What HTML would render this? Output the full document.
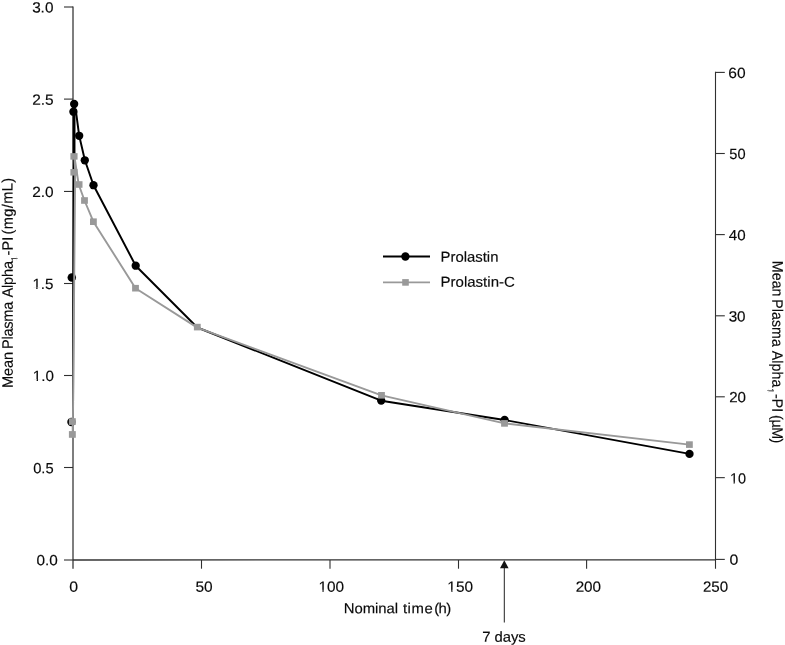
<!DOCTYPE html>
<html lang="en">
<head>
<meta charset="utf-8">
<title>Mean Plasma Alpha1-PI vs Nominal time</title>
<style>
  html, body { margin: 0; padding: 0; background: #ffffff; }
  body { width: 785px; height: 645px; overflow: hidden; }
  svg { display: block; }
  text { font-family: "Liberation Sans", "DejaVu Sans", sans-serif; fill: #0a0a0a; stroke: #0a0a0a; stroke-width: 0.15px; text-rendering: geometricPrecision; }
  .ax { stroke: #303030; stroke-width: 1.1; fill: none; }
</style>
</head>
<body>
<svg width="785" height="645" viewBox="0 0 785 645">
  <rect x="0" y="0" width="785" height="645" fill="#ffffff"/>

  <!-- left axis -->
  <g class="ax">
    <line x1="73" y1="6.4" x2="73" y2="568.7" stroke-width="1.25"/>
    <line x1="64" y1="7" x2="73" y2="7"/>
    <line x1="64" y1="99.1" x2="73" y2="99.1"/>
    <line x1="64" y1="191.45" x2="73" y2="191.45"/>
    <line x1="64" y1="283.5" x2="73" y2="283.5"/>
    <line x1="64" y1="375.5" x2="73" y2="375.5"/>
    <line x1="64" y1="467.5" x2="73" y2="467.5"/>
    <line x1="64" y1="560" x2="73" y2="560"/>
  </g>

  <!-- x axis -->
  <g class="ax">
    <line x1="73" y1="560" x2="715.5" y2="559.8" stroke-width="1.35"/>
    <line x1="201.5" y1="560" x2="201.5" y2="568.7"/>
    <line x1="330" y1="560" x2="330" y2="568.7"/>
    <line x1="458.5" y1="560" x2="458.5" y2="568.7"/>
    <line x1="586.6" y1="560" x2="586.6" y2="568.7"/>
  </g>

  <!-- right axis -->
  <g class="ax">
    <line x1="715.5" y1="71.8" x2="715.5" y2="568.7"/>
    <line x1="715.5" y1="72.4" x2="724.8" y2="72.4"/>
    <line x1="715.5" y1="153.5" x2="724.8" y2="153.5"/>
    <line x1="715.5" y1="234.6" x2="724.8" y2="234.6"/>
    <line x1="715.5" y1="315.8" x2="724.8" y2="315.8"/>
    <line x1="715.5" y1="396.8" x2="724.8" y2="396.8"/>
    <line x1="715.5" y1="477.65" x2="724.8" y2="477.65"/>
    <line x1="715.5" y1="559.4" x2="724.8" y2="559.4"/>
  </g>

  <!-- tick labels, axis titles, legend labels -->
  <g>
  <text transform="translate(32.70 12.60) rotate(0.04) scale(1.0301 1)" font-size="14.85" x="-0.56 7.70 11.83">3.0</text>
  <text transform="translate(32.90 104.80) rotate(0.04) scale(1.0420 1)" font-size="14.85" x="-0.74 7.52 11.64">2.5</text>
  <text transform="translate(32.90 196.95) rotate(0.04) scale(1.0400 1)" font-size="14.85" x="-0.74 7.52 11.64">2.0</text>
  <g transform="translate(33.90 289.00) rotate(0.04) scale(1.0213 1)"><text font-size="14.85" x="-1.43 6.83 10.96">1.5</text><rect x="-1.73" y="-1.81" width="4.03" height="2.51" fill="#fff"/><rect x="3.62" y="-1.81" width="3.64" height="2.51" fill="#fff"/></g>
  <g transform="translate(34.30 381.00) rotate(0.04) scale(1.0246 1)"><text font-size="14.85" x="-1.43 6.83 10.96">1.0</text><rect x="-1.73" y="-1.81" width="4.03" height="2.51" fill="#fff"/><rect x="3.62" y="-1.81" width="3.64" height="2.51" fill="#fff"/></g>
  <text transform="translate(33.70 473.30) rotate(0.04) scale(0.9910 1)" font-size="14.85" x="-0.56 7.70 11.83">0.5</text>
  <text transform="translate(37.00 565.20) rotate(0.04) scale(1.0301 1)" font-size="14.85" x="-0.56 7.70 11.83">0.0</text>
  <text transform="translate(729.10 77.95) rotate(0.04) scale(1.0459 1)" font-size="14.85" x="-0.74 7.52">60</text>
  <text transform="translate(729.90 159.10) rotate(0.04) scale(0.9837 1)" font-size="14.85" x="-0.59 7.67">50</text>
  <text transform="translate(729.10 240.20) rotate(0.04) scale(1.0186 1)" font-size="14.85" x="-0.33 7.93">40</text>
  <text transform="translate(729.20 321.40) rotate(0.04) scale(1.0268 1)" font-size="14.85" x="-0.56 7.70">30</text>
  <text transform="translate(729.90 402.20) rotate(0.04) scale(1.0196 1)" font-size="14.85" x="-0.74 7.52">20</text>
  <g transform="translate(731.30 483.45) rotate(0.04) scale(0.9714 1)"><text font-size="14.85" x="-1.43 6.83">10</text><rect x="-1.73" y="-1.81" width="4.03" height="2.51" fill="#fff"/><rect x="3.62" y="-1.81" width="3.64" height="2.51" fill="#fff"/></g>
  <text transform="translate(730.10 564.80) rotate(0.04) scale(1.0662 1)" font-size="14.85" x="-0.56">0</text>
  <text transform="translate(69.80 591.65) rotate(0.04) scale(1.0662 1)" font-size="14.85" x="-0.56">0</text>
  <text transform="translate(196.10 591.65) rotate(0.04) scale(1.0423 1)" font-size="14.85" x="-0.59 7.67">50</text>
  <g transform="translate(320.00 591.65) rotate(0.04) scale(1.0362 1)"><text font-size="14.85" x="-1.43 6.83 15.09">100</text><rect x="-1.73" y="-1.81" width="4.03" height="2.51" fill="#fff"/><rect x="3.62" y="-1.81" width="3.64" height="2.51" fill="#fff"/></g>
  <g transform="translate(448.80 591.65) rotate(0.04) scale(1.0362 1)"><text font-size="14.85" x="-1.43 6.83 15.09">150</text><rect x="-1.73" y="-1.81" width="4.03" height="2.51" fill="#fff"/><rect x="3.62" y="-1.81" width="3.64" height="2.51" fill="#fff"/></g>
  <text transform="translate(576.40 591.65) rotate(0.04) scale(1.0273 1)" font-size="14.85" x="-0.74 7.52 15.78">200</text>
  <text transform="translate(703.70 591.65) rotate(0.04) scale(1.0187 1)" font-size="14.85" x="-0.74 7.52 15.78">250</text>
  <text transform="translate(344.90 613.20) rotate(0.04) scale(1.0338 1)" font-size="14.4" x="-1.15 9.21 17.18 29.13 32.29 40.26 48.23 51.43 56.10 60.66 64.40 76.95 84.96 86.41 90.65 98.11">Nominal time (h)</text>
  <text transform="translate(482.90 641.80) rotate(0.04) scale(1.0299 1)" font-size="14.4" x="-0.72 7.29 11.17 19.18 27.18 34.38">7 days</text>
  <text transform="translate(441.70 261.70) rotate(0.04) scale(1.0341 1)" font-size="14.4" x="-1.15 8.45 13.25 21.26 24.46 32.47 39.67 43.67 46.87">Prolastin</text>
  <text transform="translate(441.70 286.75) rotate(0.04) scale(1.0441 1)" font-size="14.4" x="-1.15 8.45 13.25 21.26 24.46 32.47 39.67 43.67 46.87 54.87 59.67">Prolastin-C</text>
  <g transform="translate(12.75 386.90) rotate(-90.04) scale(0.9683 1)"><text font-size="15.1" x="-1.21 11.24 19.51 27.78 36.18 39.07 48.87 51.96 60.08 67.37 79.67 88.07 92.22 102.14 105.33 113.57 121.81">Mean Plasma Alpha<tspan font-size="9.0" x="130.03" dy="4.9" style="stroke-width:0.2px;fill:#333;stroke:#333">1</tspan><tspan x="135.78 140.89 151.05 155.24 157.41 162.81 175.76 184.52 189.08 202.03 210.80" dy="-4.9">-PI (mg/mL)</tspan></text><rect x="129.85" y="3.58" width="2.44" height="1.97" fill="#fff"/><rect x="133.09" y="3.58" width="2.21" height="1.97" fill="#fff"/></g>
  <g transform="translate(772.40 261.90) rotate(90.04) scale(0.9382 1)"><text font-size="15.1" x="-1.21 11.48 19.98 28.48 36.88 39.83 49.98 53.41 61.89 69.52 82.18 90.58 94.75 104.89 108.31 116.77 125.24">Mean Plasma Alpha<tspan font-size="9.0" x="134.55" dy="4.85" style="stroke-width:0.2px;fill:#333;stroke:#333">1</tspan><tspan x="140.69 145.81 155.98 160.17 163.23 167.87 176.18 188.37" dy="-4.85">-PI (µM)</tspan></text><rect x="134.37" y="3.53" width="2.44" height="1.97" fill="#fff"/><rect x="137.61" y="3.53" width="2.21" height="1.97" fill="#fff"/></g>
  </g>

  <!-- 7 days arrow -->
  <line x1="504.3" y1="566" x2="504.3" y2="622.5" stroke="#222" stroke-width="1"/>
  <polygon points="504.3,560.2 500,568.2 508.6,568.2" fill="#111"/>

  <!-- Prolastin (black) -->
  <polyline fill="none" stroke="#000" stroke-width="1.95" stroke-linejoin="round"
    points="73.0,422 73.4,277.5 73.75,190 74.05,153 74.1,112 74.3,104 73.4,111.7 75.7,109.5 79.2,135.8 84.9,160.3 93.5,185.2 135.7,265.7 197.3,327.5 381.2,400.7 504.6,420.0 689.5,453.9"/>
  <line x1="74.05" y1="156" x2="74.05" y2="110" stroke="#000" stroke-width="2.8"/>
  <g fill="#000">
    <circle cx="71.4" cy="422" r="4.15"/>
    <circle cx="71.8" cy="277.5" r="4.25"/>
    <circle cx="73.4" cy="111.7" r="4.15"/>
    <circle cx="74.15" cy="104" r="4.15"/>
    <circle cx="79.2" cy="135.8" r="4.15"/>
    <circle cx="84.8" cy="160.3" r="4.15"/>
    <circle cx="93.5" cy="185.2" r="4.15"/>
    <circle cx="135.7" cy="265.7" r="4.15"/>
    <circle cx="381.2" cy="400.5" r="4.15"/>
    <circle cx="504.6" cy="420.0" r="4.15"/>
    <circle cx="689.5" cy="453.9" r="4.15"/>
  </g>

  <!-- Prolastin-C (gray) -->
  <polyline fill="none" stroke="#999" stroke-width="1.9" stroke-linejoin="round"
    points="72.6,421.5 72.8,434.4 75.0,190 75.2,172.3 74.4,156.4 78.7,184.5 84.5,200.5 93.4,221.7 135.5,288.2 197.3,327.6 381.5,395.4 504.5,423.4 689.4,444.6"/>
  <g fill="#999">
    <rect x="68.9" y="418.2" width="6.9" height="6.7"/>
    <rect x="68.9" y="431.1" width="6.9" height="6.7"/>
    <rect x="70.4" y="169.05" width="7.15" height="6.5"/>
    <rect x="70.4" y="153.15" width="7.15" height="6.5"/>
    <rect x="75.0" y="181.2" width="7.5" height="6.6"/>
    <rect x="81.1" y="197.2" width="6.8" height="6.6"/>
    <rect x="90.0" y="218.4" width="6.8" height="6.6"/>
    <rect x="132.1" y="284.9" width="6.8" height="6.6"/>
    <rect x="193.9" y="323.8" width="6.8" height="6.6"/>
    <rect x="378.1" y="392" width="6.8" height="6.6"/>
    <rect x="501.1" y="420.1" width="6.8" height="6.6"/>
    <rect x="686.0" y="441.3" width="6.8" height="6.6"/>
  </g>

  <!-- legend -->
  <line x1="383" y1="256.5" x2="430" y2="256.5" stroke="#000" stroke-width="2"/>
  <circle cx="405.4" cy="256.5" r="4.2" fill="#000"/>
  <line x1="383" y1="282.3" x2="430" y2="282.3" stroke="#999" stroke-width="1.8"/>
  <rect x="402.2" y="279.1" width="6.6" height="6.6" fill="#999"/>
</svg>
</body>
</html>
